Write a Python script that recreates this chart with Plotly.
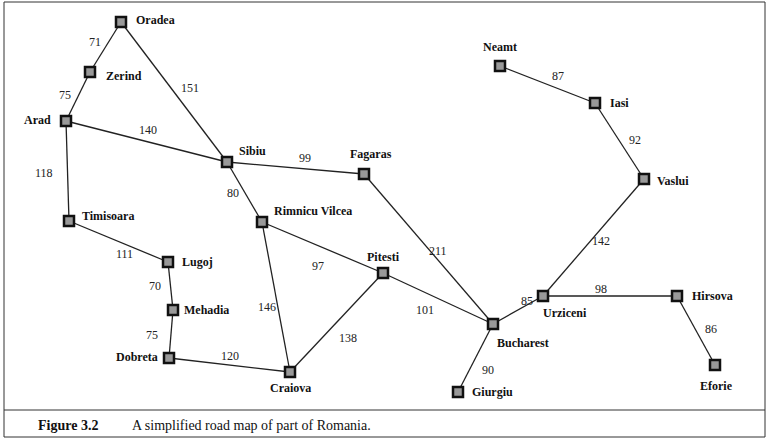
import plotly.graph_objects as go

# city positions in picture pixels (x right, y down)
cities = ['Oradea', 'Zerind', 'Arad', 'Timisoara', 'Lugoj', 'Mehadia', 'Dobreta',
          'Craiova', 'Rimnicu Vilcea', 'Sibiu', 'Fagaras', 'Pitesti', 'Bucharest',
          'Giurgiu', 'Urziceni', 'Hirsova', 'Eforie', 'Vaslui', 'Iasi', 'Neamt']
city_x = [121, 90, 66, 69, 168, 173, 169, 290, 262, 227, 364, 383, 493, 458, 543, 677, 715, 644, 595, 500]
city_y = [22, 72, 121, 221, 262, 310, 358, 372, 222, 162, 174, 273, 324, 392, 296, 296, 365, 179, 103, 66]

# label anchor per city
label_x = [134, 104, 53, 80, 180, 182, 160, 290, 272, 237, 371, 383, 495, 470, 541, 690, 716, 655, 608, 500]
label_y = [20, 76, 120, 216, 262, 310, 357, 388, 211, 151, 154, 257, 343, 392, 313, 296, 386, 181, 103, 47]
label_anchor = ['left', 'left', 'right', 'left', 'left', 'left', 'right', 'center', 'left', 'left',
                'center', 'center', 'left', 'left', 'left', 'left', 'center', 'left', 'left', 'center']

roads = [('Oradea', 'Zerind', 71), ('Zerind', 'Arad', 75), ('Oradea', 'Sibiu', 151),
         ('Arad', 'Sibiu', 140), ('Arad', 'Timisoara', 118), ('Timisoara', 'Lugoj', 111),
         ('Lugoj', 'Mehadia', 70), ('Mehadia', 'Dobreta', 75), ('Dobreta', 'Craiova', 120),
         ('Sibiu', 'Fagaras', 99), ('Sibiu', 'Rimnicu Vilcea', 80), ('Rimnicu Vilcea', 'Pitesti', 97),
         ('Rimnicu Vilcea', 'Craiova', 146), ('Pitesti', 'Craiova', 138), ('Fagaras', 'Bucharest', 211),
         ('Pitesti', 'Bucharest', 101), ('Bucharest', 'Urziceni', 85), ('Bucharest', 'Giurgiu', 90),
         ('Urziceni', 'Hirsova', 98), ('Hirsova', 'Eforie', 86), ('Urziceni', 'Vaslui', 142),
         ('Vaslui', 'Iasi', 92), ('Iasi', 'Neamt', 87)]
dist_x = [95, 65, 190, 148, 44, 124, 155, 152, 230, 305, 233, 318, 267, 348, 438, 425, 527, 488, 601, 711, 601, 635, 558]
dist_y = [42, 95, 88, 130, 173, 254, 286, 335, 356, 158, 193, 266, 307, 338, 251, 310, 301, 370, 289, 329, 241, 140, 76]

pos = {c: (x, y) for c, x, y in zip(cities, city_x, city_y)}
SERIF = 'Liberation Serif, Times New Roman, serif'

fig = go.Figure()
ex, ey = [], []
for a, b, _ in roads:
    ex += [pos[a][0], pos[b][0], None]
    ey += [pos[a][1], pos[b][1], None]
fig.add_trace(go.Scatter(x=ex, y=ey, mode='lines', line=dict(color='#222', width=1.3),
                         hoverinfo='skip'))
fig.add_trace(go.Scatter(x=city_x, y=city_y, mode='markers', text=cities,
                         marker=dict(symbol='square', size=10, color='#999',
                                     line=dict(color='#111', width=2.5))))

for (_, _, d), x, y in zip(roads, dist_x, dist_y):
    fig.add_annotation(x=x, y=y, text=str(d), showarrow=False,
                       font=dict(family=SERIF, size=12, color='#222'))

for c, x, y, anc in zip(cities, label_x, label_y, label_anchor):
    fig.add_annotation(x=x, y=y, text='<b>%s</b>' % c, showarrow=False, xanchor=anc,
                       yanchor='middle', font=dict(family=SERIF, size=12, color='#111'))

fig.add_annotation(x=36, y=425, text='<b>Figure 3.2</b>', showarrow=False, xanchor='left',
                   font=dict(family=SERIF, size=14, color='#111'))
fig.add_annotation(x=130, y=425, text='A simplified road map of part of Romania.', showarrow=False,
                   xanchor='left', font=dict(family=SERIF, size=14, color='#111'))

fig.add_shape(type='rect', x0=4, y0=2, x1=765, y1=437, line=dict(color='#333', width=1))
fig.add_shape(type='line', x0=4, y0=410, x1=765, y1=410, line=dict(color='#333', width=1))

fig.update_layout(
    width=769, height=440, margin=dict(l=0, r=0, t=0, b=0),
    paper_bgcolor='white', plot_bgcolor='white', showlegend=False,
    xaxis=dict(range=[0, 769], visible=False, fixedrange=True),
    yaxis=dict(range=[440, 0], visible=False, fixedrange=True),
)
fig.write_html("out.html", config={'displayModeBar': False},
               post_script="document.body.style.margin='0';document.body.style.overflow='hidden';")
